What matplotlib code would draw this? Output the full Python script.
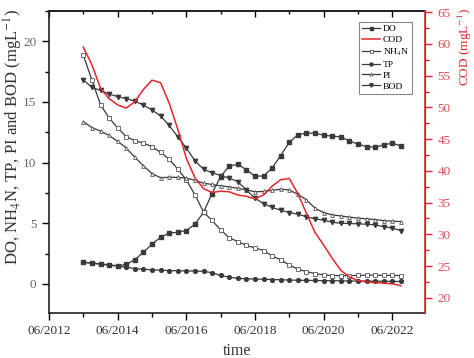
import matplotlib
matplotlib.use("Agg")
import matplotlib.pyplot as plt
import matplotlib.dates as mdates
import matplotlib.ticker as mticker
import pandas as pd

plt.rcParams['font.family'] = ['Liberation Serif', 'DejaVu Serif']
plt.rcParams['mathtext.fontset'] = 'stix'

# quarterly sampling dates, 06/2013 .. 09/2022
dates = pd.date_range('2013-06-01', '2022-09-01', freq='3MS')

DO = [1.78, 1.73, 1.65, 1.57, 1.50, 1.60, 2.00, 2.60, 3.27, 3.85, 4.18, 4.26, 4.40, 4.92,
      5.90, 7.45, 8.85, 9.73, 9.85, 9.42, 8.87, 8.90, 9.55, 10.58, 11.66, 12.30, 12.43,
      12.42, 12.26, 12.18, 12.12, 11.79, 11.52, 11.32, 11.27, 11.46, 11.60, 11.38]
NH4N = [18.85, 16.80, 14.77, 13.70, 12.86, 12.14, 11.81, 11.60, 11.32, 10.85, 10.28, 9.47,
        8.57, 7.34, 5.93, 5.23, 4.45, 3.80, 3.49, 3.17, 2.97, 2.75, 2.31, 1.98, 1.57, 1.21,
        1.01, 0.85, 0.74, 0.69, 0.68, 0.68, 0.70, 0.72, 0.72, 0.70, 0.70, 0.68]
TP = [1.78, 1.70, 1.62, 1.54, 1.46, 1.38, 1.26, 1.21, 1.16, 1.13, 1.10, 1.08, 1.07, 1.06,
      1.04, 0.92, 0.70, 0.55, 0.46, 0.42, 0.40, 0.38, 0.36, 0.34, 0.32, 0.30, 0.29, 0.28,
      0.27, 0.26, 0.25, 0.24, 0.23, 0.23, 0.22, 0.21, 0.21, 0.20]
PI = [13.38, 12.88, 12.60, 12.24, 11.76, 11.20, 10.45, 9.74, 9.10, 8.75, 8.80, 8.78, 8.72,
      8.55, 8.30, 8.20, 8.08, 8.00, 7.88, 7.75, 7.60, 7.62, 7.72, 7.80, 7.75, 7.38, 6.93,
      6.24, 5.88, 5.69, 5.60, 5.50, 5.42, 5.36, 5.30, 5.22, 5.17, 5.14]
BOD = [16.82, 16.20, 15.95, 15.66, 15.44, 15.27, 15.06, 14.76, 14.34, 13.85, 13.07, 12.14,
       11.20, 10.15, 9.45, 9.17, 8.93, 8.71, 8.43, 7.75, 7.06, 6.62, 6.30, 6.08, 5.88, 5.74,
       5.55, 5.36, 5.25, 5.08, 5.00, 4.98, 4.95, 4.92, 4.86, 4.72, 4.59, 4.40]
COD = [59.5, 56.7, 53.0, 51.4, 50.4, 49.9, 50.9, 52.8, 54.3, 53.9, 50.7, 46.6, 42.0, 38.9,
       37.2, 36.6, 36.8, 36.7, 36.2, 36.0, 35.6, 36.2, 37.6, 38.6, 38.8, 36.4, 33.3, 30.3,
       28.3, 26.2, 24.3, 23.3, 22.7, 22.5, 22.4, 22.3, 22.2, 21.9]

major_ticks = pd.to_datetime(['2012-06-01', '2014-06-01', '2016-06-01', '2018-06-01',
                              '2020-06-01', '2022-06-01'])
minor_ticks = pd.to_datetime(['2013-06-01', '2015-06-01', '2017-06-01', '2019-06-01',
                              '2021-06-01'])
tick_labels = ['06/2012', '06/2014', '06/2016', '06/2018', '06/2020', '06/2022']

dark = '#3a3a3a'
red = '#e3262d'
red_lbl = '#e04a55'

fig = plt.figure(figsize=(4.74, 3.58), dpi=100)
ax = fig.add_axes([0.1034, 0.1257, 0.7932, 0.8436])
ax2 = ax.twinx()

x = mdates.date2num(dates)
ms = 2.7
lw = 0.9
ax.plot(x, DO, color=dark, lw=lw, marker='s', ms=ms, mfc=dark, mec=dark, label='DO')
ax.plot(x, NH4N, color=dark, lw=lw, marker='s', ms=ms, mfc='white', mec='#555555', mew=0.6, label='NH$_4$N')
ax.plot(x, TP, color=dark, lw=lw, marker='o', ms=ms, mfc=dark, mec=dark, label='TP')
ax.plot(x, PI, color=dark, lw=lw, marker='^', ms=ms, mfc='white', mec='#555555', mew=0.6, label='PI')
ax.plot(x, BOD, color=dark, lw=lw, marker='v', ms=ms + 0.4, mfc=dark, mec=dark, label='BOD')
ax2.plot(x, COD, color=red, lw=1.1, label='COD')

xmin = mdates.date2num(pd.Timestamp('2012-06-01'))
xmax = mdates.date2num(pd.Timestamp('2023-05-15'))
ax.set_xlim(xmin, xmax)
ax.set_ylim(-2.4, 22.5)
ax2.set_ylim(17.6, 65.2)

ax.set_xticks(mdates.date2num(major_ticks))
ax.set_xticklabels(tick_labels)
ax.set_xticks(mdates.date2num(minor_ticks), minor=True)
ax.yaxis.set_major_locator(mticker.MultipleLocator(5))
ax.yaxis.set_minor_locator(mticker.MultipleLocator(2.5))
ax2.yaxis.set_major_locator(mticker.MultipleLocator(5))
ax2.yaxis.set_minor_locator(mticker.MultipleLocator(2.5))

ax.tick_params(axis='x', which='major', direction='out', length=5, width=1, labelsize=9.5,
               labelcolor='#333333', pad=4)
ax.tick_params(axis='x', which='minor', direction='out', length=3, width=1)
ax.tick_params(axis='y', which='major', direction='out', length=5, width=1, labelsize=9.5,
               labelcolor='#666666', pad=4)
ax.tick_params(axis='y', which='minor', direction='out', length=3, width=1)
ax2.tick_params(axis='y', which='major', direction='out', length=5, width=1, labelsize=9.5,
                colors=red, labelcolor=red_lbl, pad=4)
ax2.tick_params(axis='y', which='minor', direction='out', length=3, width=1, colors=red)

secx = ax.secondary_xaxis('top', functions=(lambda v: v, lambda v: v))
secx.set_xticks(mdates.date2num(major_ticks))
secx.set_xticks(mdates.date2num(minor_ticks), minor=True)
secx.tick_params(axis='x', which='major', direction='in', length=4, width=1, labeltop=False)
secx.tick_params(axis='x', which='minor', direction='in', length=2.5, width=1, labeltop=False)
secx.spines['top'].set_linewidth(1.2)

for s in ['left', 'bottom', 'top']:
    ax.spines[s].set_linewidth(1.2)
    ax.spines[s].set_color('#222222')
ax2.spines['right'].set_color(red)
ax2.spines['right'].set_linewidth(1.2)
for s in ['left', 'bottom', 'top']:
    ax2.spines[s].set_visible(False)

ax.set_xlabel('time', fontsize=11.5, color='#333333', labelpad=4)
fig.text(13 / 474, 1 - 137 / 358, 'DO, NH$_4$N, TP, PI and BOD (mgL$^{-1}$)', rotation=90,
         ha='center', va='center', fontsize=12, color='#333333')
fig.text(465 / 474, 1 - 47 / 358, 'COD (mgL$^{-1}$)', rotation=90, ha='center', va='center',
         fontsize=9.5, color=red)

h1, l1 = ax.get_legend_handles_labels()
h2, l2 = ax2.get_legend_handles_labels()
order = ['DO', 'COD', 'NH$_4$N', 'TP', 'PI', 'BOD']
hd = dict(zip(l1 + l2, h1 + h2))
leg = ax.legend([hd[k] for k in order], order, loc='upper right',
                bbox_to_anchor=(0.966, 0.964), borderaxespad=0, fontsize=6.8,
                handlelength=1.9, labelspacing=0.25, handletextpad=0.35, borderpad=0.3,
                fancybox=False, framealpha=1, edgecolor='#888888', markerscale=0.8)
leg.get_frame().set_linewidth(0.8)
leg.set_zorder(10)

fig.savefig('out.png', dpi=100)
